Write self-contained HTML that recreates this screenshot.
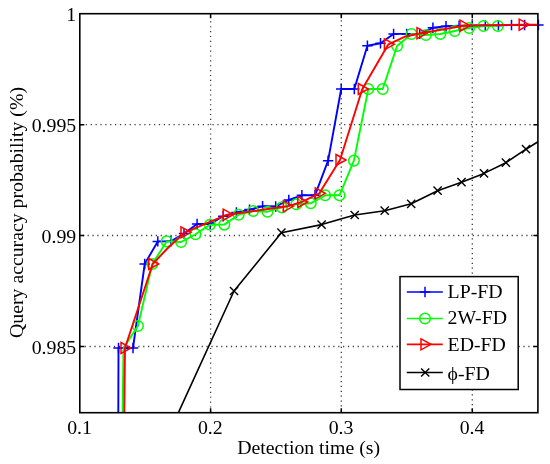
<!DOCTYPE html>
<html><head><meta charset="utf-8"><title>Chart</title><style>html,body{margin:0;padding:0;background:#fff}svg{display:block}</style></head><body>
<svg width="550" height="464" viewBox="0 0 550 464" font-family="'Liberation Serif', serif" font-size="19.8">
<rect width="550" height="464" fill="#fff"/>
<line x1="210.60" y1="16.40" x2="210.60" y2="412.70" stroke="#3a3a3a" stroke-width="1.3" stroke-dasharray="1.2 3.675"/>
<line x1="341.30" y1="15.30" x2="341.30" y2="412.70" stroke="#3a3a3a" stroke-width="1.3" stroke-dasharray="1.2 3.675"/>
<line x1="472.30" y1="14.05" x2="472.30" y2="412.70" stroke="#3a3a3a" stroke-width="1.3" stroke-dasharray="1.2 3.675"/>
<line x1="80.90" y1="124.70" x2="537.90" y2="124.70" stroke="#3a3a3a" stroke-width="1.3" stroke-dasharray="1.2 3.675"/>
<line x1="82.70" y1="235.50" x2="537.90" y2="235.50" stroke="#3a3a3a" stroke-width="1.3" stroke-dasharray="1.2 3.675"/>
<line x1="79.80" y1="346.50" x2="537.90" y2="346.50" stroke="#3a3a3a" stroke-width="1.3" stroke-dasharray="1.2 3.675"/>
<polyline fill="none" stroke="#00f" stroke-width="1.9" stroke-linejoin="round" points="118.3,412.7 118.5,348.0 133.0,348.0 144.7,264.0 157.8,241.4 170.9,241.3 184.0,233.6 197.1,224.0 210.2,224.0 223.3,216.3 236.4,212.5 249.5,209.6 262.6,206.3 275.7,206.5 288.8,200.0 301.9,195.3 315.0,195.3 328.1,160.7 341.2,89.0 354.3,89.0 367.4,45.8 380.5,43.3 393.6,33.9 406.7,33.9 419.8,33.7 432.9,27.8 446.0,26.2 459.1,25.7 472.2,25.4 485.3,25.4 498.4,25.4 511.5,25.0 524.6,25.0 538.4,25.0"/>
<path d="M113.3 348.0h10.4M118.5 342.8v10.4" stroke="#00f" stroke-width="1.5" fill="none"/>
<path d="M127.8 348.0h10.4M133.0 342.8v10.4" stroke="#00f" stroke-width="1.5" fill="none"/>
<path d="M139.5 264.0h10.4M144.7 258.8v10.4" stroke="#00f" stroke-width="1.5" fill="none"/>
<path d="M152.6 241.4h10.4M157.8 236.2v10.4" stroke="#00f" stroke-width="1.5" fill="none"/>
<path d="M165.7 241.3h10.4M170.9 236.1v10.4" stroke="#00f" stroke-width="1.5" fill="none"/>
<path d="M178.8 233.6h10.4M184.0 228.4v10.4" stroke="#00f" stroke-width="1.5" fill="none"/>
<path d="M191.9 224.0h10.4M197.1 218.8v10.4" stroke="#00f" stroke-width="1.5" fill="none"/>
<path d="M205.0 224.0h10.4M210.2 218.8v10.4" stroke="#00f" stroke-width="1.5" fill="none"/>
<path d="M218.1 216.3h10.4M223.3 211.1v10.4" stroke="#00f" stroke-width="1.5" fill="none"/>
<path d="M231.2 212.5h10.4M236.4 207.3v10.4" stroke="#00f" stroke-width="1.5" fill="none"/>
<path d="M244.3 209.6h10.4M249.5 204.4v10.4" stroke="#00f" stroke-width="1.5" fill="none"/>
<path d="M257.4 206.3h10.4M262.6 201.1v10.4" stroke="#00f" stroke-width="1.5" fill="none"/>
<path d="M270.5 206.5h10.4M275.7 201.3v10.4" stroke="#00f" stroke-width="1.5" fill="none"/>
<path d="M283.6 200.0h10.4M288.8 194.8v10.4" stroke="#00f" stroke-width="1.5" fill="none"/>
<path d="M296.7 195.3h10.4M301.9 190.1v10.4" stroke="#00f" stroke-width="1.5" fill="none"/>
<path d="M309.8 195.3h10.4M315.0 190.1v10.4" stroke="#00f" stroke-width="1.5" fill="none"/>
<path d="M322.9 160.7h10.4M328.1 155.5v10.4" stroke="#00f" stroke-width="1.5" fill="none"/>
<path d="M336.0 89.0h10.4M341.2 83.8v10.4" stroke="#00f" stroke-width="1.5" fill="none"/>
<path d="M349.1 89.0h10.4M354.3 83.8v10.4" stroke="#00f" stroke-width="1.5" fill="none"/>
<path d="M362.2 45.8h10.4M367.4 40.6v10.4" stroke="#00f" stroke-width="1.5" fill="none"/>
<path d="M375.3 43.3h10.4M380.5 38.1v10.4" stroke="#00f" stroke-width="1.5" fill="none"/>
<path d="M388.4 33.9h10.4M393.6 28.7v10.4" stroke="#00f" stroke-width="1.5" fill="none"/>
<path d="M401.5 33.9h10.4M406.7 28.7v10.4" stroke="#00f" stroke-width="1.5" fill="none"/>
<path d="M414.6 33.7h10.4M419.8 28.5v10.4" stroke="#00f" stroke-width="1.5" fill="none"/>
<path d="M427.7 27.8h10.4M432.9 22.6v10.4" stroke="#00f" stroke-width="1.5" fill="none"/>
<path d="M440.8 26.2h10.4M446.0 21.0v10.4" stroke="#00f" stroke-width="1.5" fill="none"/>
<path d="M453.9 25.7h10.4M459.1 20.5v10.4" stroke="#00f" stroke-width="1.5" fill="none"/>
<path d="M467.0 25.4h10.4M472.2 20.2v10.4" stroke="#00f" stroke-width="1.5" fill="none"/>
<path d="M480.1 25.4h10.4M485.3 20.2v10.4" stroke="#00f" stroke-width="1.5" fill="none"/>
<path d="M493.2 25.4h10.4M498.4 20.2v10.4" stroke="#00f" stroke-width="1.5" fill="none"/>
<path d="M506.3 25.0h10.4M511.5 19.8v10.4" stroke="#00f" stroke-width="1.5" fill="none"/>
<path d="M519.4 25.0h10.4M524.6 19.8v10.4" stroke="#00f" stroke-width="1.5" fill="none"/>
<path d="M533.2 25.0h10.4M538.4 19.8v10.4" stroke="#00f" stroke-width="1.5" fill="none"/>
<polyline fill="none" stroke="#0f0" stroke-width="1.9" stroke-linejoin="round" points="122.6,412.7 123.5,348.0 137.9,326.0 152.3,264.0 166.7,241.4 181.1,242.0 195.5,234.3 209.9,224.7 224.3,224.6 238.7,214.7 253.1,211.0 267.5,211.7 281.9,207.4 296.3,204.2 310.7,203.3 325.1,195.3 339.5,195.3 353.9,160.6 368.3,89.0 382.7,89.0 397.1,46.0 411.5,34.0 425.9,35.0 440.3,34.0 454.7,31.0 469.1,28.0 483.5,26.0 497.9,26.0"/>
<circle cx="137.9" cy="326.0" r="5.3" stroke="#0f0" stroke-width="1.5" fill="none"/>
<circle cx="152.3" cy="264.0" r="5.3" stroke="#0f0" stroke-width="1.5" fill="none"/>
<circle cx="166.7" cy="241.4" r="5.3" stroke="#0f0" stroke-width="1.5" fill="none"/>
<circle cx="181.1" cy="242.0" r="5.3" stroke="#0f0" stroke-width="1.5" fill="none"/>
<circle cx="195.5" cy="234.3" r="5.3" stroke="#0f0" stroke-width="1.5" fill="none"/>
<circle cx="209.9" cy="224.7" r="5.3" stroke="#0f0" stroke-width="1.5" fill="none"/>
<circle cx="224.3" cy="224.6" r="5.3" stroke="#0f0" stroke-width="1.5" fill="none"/>
<circle cx="238.7" cy="214.7" r="5.3" stroke="#0f0" stroke-width="1.5" fill="none"/>
<circle cx="253.1" cy="211.0" r="5.3" stroke="#0f0" stroke-width="1.5" fill="none"/>
<circle cx="267.5" cy="211.7" r="5.3" stroke="#0f0" stroke-width="1.5" fill="none"/>
<circle cx="281.9" cy="207.4" r="5.3" stroke="#0f0" stroke-width="1.5" fill="none"/>
<circle cx="296.3" cy="204.2" r="5.3" stroke="#0f0" stroke-width="1.5" fill="none"/>
<circle cx="310.7" cy="203.3" r="5.3" stroke="#0f0" stroke-width="1.5" fill="none"/>
<circle cx="325.1" cy="195.3" r="5.3" stroke="#0f0" stroke-width="1.5" fill="none"/>
<circle cx="339.5" cy="195.3" r="5.3" stroke="#0f0" stroke-width="1.5" fill="none"/>
<circle cx="353.9" cy="160.6" r="5.3" stroke="#0f0" stroke-width="1.5" fill="none"/>
<circle cx="368.3" cy="89.0" r="5.3" stroke="#0f0" stroke-width="1.5" fill="none"/>
<circle cx="382.7" cy="89.0" r="5.3" stroke="#0f0" stroke-width="1.5" fill="none"/>
<circle cx="397.1" cy="46.0" r="5.3" stroke="#0f0" stroke-width="1.5" fill="none"/>
<circle cx="411.5" cy="34.0" r="5.3" stroke="#0f0" stroke-width="1.5" fill="none"/>
<circle cx="425.9" cy="35.0" r="5.3" stroke="#0f0" stroke-width="1.5" fill="none"/>
<circle cx="440.3" cy="34.0" r="5.3" stroke="#0f0" stroke-width="1.5" fill="none"/>
<circle cx="454.7" cy="31.0" r="5.3" stroke="#0f0" stroke-width="1.5" fill="none"/>
<circle cx="469.1" cy="28.0" r="5.3" stroke="#0f0" stroke-width="1.5" fill="none"/>
<circle cx="483.5" cy="26.0" r="5.3" stroke="#0f0" stroke-width="1.5" fill="none"/>
<circle cx="497.9" cy="26.0" r="5.3" stroke="#0f0" stroke-width="1.5" fill="none"/>
<polyline fill="none" stroke="#f00" stroke-width="1.9" stroke-linejoin="round" points="124.3,412.7 125.0,348.0 152.7,264.0 167.3,248.5 185.0,232.3 227.2,214.7 287.3,206.3 301.8,202.0 319.3,193.3 340.0,160.0 362.3,89.0 388.4,44.3 404.5,36.8 421.0,33.2 464.0,25.7 523.2,24.7 537.9,24.7"/>
<path d="M121.0 342.5L131.0 348.0L121.0 353.5Z" stroke="#f00" stroke-width="1.5" fill="none" stroke-linejoin="miter"/>
<path d="M148.7 258.5L158.7 264.0L148.7 269.5Z" stroke="#f00" stroke-width="1.5" fill="none" stroke-linejoin="miter"/>
<path d="M181.0 226.8L191.0 232.3L181.0 237.8Z" stroke="#f00" stroke-width="1.5" fill="none" stroke-linejoin="miter"/>
<path d="M223.2 209.2L233.2 214.7L223.2 220.2Z" stroke="#f00" stroke-width="1.5" fill="none" stroke-linejoin="miter"/>
<path d="M283.3 200.8L293.3 206.3L283.3 211.8Z" stroke="#f00" stroke-width="1.5" fill="none" stroke-linejoin="miter"/>
<path d="M297.8 196.5L307.8 202.0L297.8 207.5Z" stroke="#f00" stroke-width="1.5" fill="none" stroke-linejoin="miter"/>
<path d="M315.3 187.8L325.3 193.3L315.3 198.8Z" stroke="#f00" stroke-width="1.5" fill="none" stroke-linejoin="miter"/>
<path d="M336.0 154.5L346.0 160.0L336.0 165.5Z" stroke="#f00" stroke-width="1.5" fill="none" stroke-linejoin="miter"/>
<path d="M358.3 83.5L368.3 89.0L358.3 94.5Z" stroke="#f00" stroke-width="1.5" fill="none" stroke-linejoin="miter"/>
<path d="M384.4 38.8L394.4 44.3L384.4 49.8Z" stroke="#f00" stroke-width="1.5" fill="none" stroke-linejoin="miter"/>
<path d="M417.0 27.7L427.0 33.2L417.0 38.7Z" stroke="#f00" stroke-width="1.5" fill="none" stroke-linejoin="miter"/>
<path d="M460.0 20.2L470.0 25.7L460.0 31.2Z" stroke="#f00" stroke-width="1.5" fill="none" stroke-linejoin="miter"/>
<path d="M519.2 19.2L529.2 24.7L519.2 30.2Z" stroke="#f00" stroke-width="1.5" fill="none" stroke-linejoin="miter"/>
<polyline fill="none" stroke="#000" stroke-width="1.6" stroke-linejoin="round" points="178.4,412.7 234.0,291.0 281.4,232.7 321.6,224.6 354.7,215.0 384.7,210.7 411.2,203.8 437.6,190.7 461.5,182.2 484.0,173.4 505.9,162.7 526.0,149.2 538.0,141.8"/>
<path d="M229.9 286.9L238.1 295.1M229.9 295.1L238.1 286.9" stroke="#000" stroke-width="1.4" fill="none"/>
<path d="M277.3 228.6L285.5 236.8M277.3 236.8L285.5 228.6" stroke="#000" stroke-width="1.4" fill="none"/>
<path d="M317.5 220.5L325.7 228.7M317.5 228.7L325.7 220.5" stroke="#000" stroke-width="1.4" fill="none"/>
<path d="M350.6 210.9L358.8 219.1M350.6 219.1L358.8 210.9" stroke="#000" stroke-width="1.4" fill="none"/>
<path d="M380.6 206.6L388.8 214.8M380.6 214.8L388.8 206.6" stroke="#000" stroke-width="1.4" fill="none"/>
<path d="M407.1 199.7L415.3 207.9M407.1 207.9L415.3 199.7" stroke="#000" stroke-width="1.4" fill="none"/>
<path d="M433.5 186.6L441.7 194.8M433.5 194.8L441.7 186.6" stroke="#000" stroke-width="1.4" fill="none"/>
<path d="M457.4 178.1L465.6 186.3M457.4 186.3L465.6 178.1" stroke="#000" stroke-width="1.4" fill="none"/>
<path d="M479.9 169.3L488.1 177.5M479.9 177.5L488.1 169.3" stroke="#000" stroke-width="1.4" fill="none"/>
<path d="M501.8 158.6L510.0 166.8M501.8 166.8L510.0 158.6" stroke="#000" stroke-width="1.4" fill="none"/>
<path d="M521.9 145.1L530.1 153.3M521.9 153.3L530.1 145.1" stroke="#000" stroke-width="1.4" fill="none"/>
<rect x="79.8" y="13.7" width="458.1" height="399.0" fill="none" stroke="#000" stroke-width="1.6"/>
<path d="M210.6 412.7v-4.5M210.6 13.7v4.5" stroke="#000" stroke-width="1.5"/>
<path d="M341.3 412.7v-4.5M341.3 13.7v4.5" stroke="#000" stroke-width="1.5"/>
<path d="M472.3 412.7v-4.5M472.3 13.7v4.5" stroke="#000" stroke-width="1.5"/>
<path d="M79.8 124.7h4.5M537.9 124.7h-4.5" stroke="#000" stroke-width="1.5"/>
<path d="M79.8 235.5h4.5M537.9 235.5h-4.5" stroke="#000" stroke-width="1.5"/>
<path d="M79.8 346.5h4.5M537.9 346.5h-4.5" stroke="#000" stroke-width="1.5"/>
<text x="79.5" y="434" text-anchor="middle">0.1</text>
<text x="210.3" y="434" text-anchor="middle">0.2</text>
<text x="341.0" y="434" text-anchor="middle">0.3</text>
<text x="472.0" y="434" text-anchor="middle">0.4</text>
<text x="76.2" y="21.1" text-anchor="end">1</text>
<text x="76.2" y="132.1" text-anchor="end">0.995</text>
<text x="76.2" y="242.9" text-anchor="end">0.99</text>
<text x="76.2" y="353.9" text-anchor="end">0.985</text>
<text x="308.7" y="454" text-anchor="middle" font-size="19.8">Detection time (s)</text>
<text transform="translate(23.3 212.5) rotate(-90)" text-anchor="middle" font-size="19.8">Query accuracy probability (%)</text>
<rect x="400" y="276.6" width="118.2" height="112.9" fill="#fff" stroke="#000" stroke-width="1.5"/>
<line x1="406.8" y1="292.0" x2="442.8" y2="292.0" stroke="#00f" stroke-width="1.7"/>
<path d="M419.8 292.0h10.4M425.0 286.8v10.4" stroke="#00f" stroke-width="1.5" fill="none"/>
<text x="447.6" y="297.9" font-size="19.8">LP-FD</text>
<line x1="406.8" y1="318.5" x2="442.8" y2="318.5" stroke="#0f0" stroke-width="1.7"/>
<circle cx="425.0" cy="318.5" r="5.3" stroke="#0f0" stroke-width="1.5" fill="none"/>
<text x="447.6" y="323.9" font-size="19.8">2W-FD</text>
<line x1="406.8" y1="344.3" x2="442.8" y2="344.3" stroke="#f00" stroke-width="1.7"/>
<path d="M421.0 338.8L431.0 344.3L421.0 349.8Z" stroke="#f00" stroke-width="1.5" fill="none" stroke-linejoin="miter"/>
<text x="447.6" y="350.8" font-size="19.8">ED-FD</text>
<line x1="406.8" y1="372.5" x2="442.8" y2="372.5" stroke="#000" stroke-width="1.7"/>
<path d="M421.1 368.4L429.3 376.6M421.1 376.6L429.3 368.4" stroke="#000" stroke-width="1.4" fill="none"/>
<text x="447.6" y="380.1" font-size="19.8">ϕ-FD</text>
</svg>
</body></html>
